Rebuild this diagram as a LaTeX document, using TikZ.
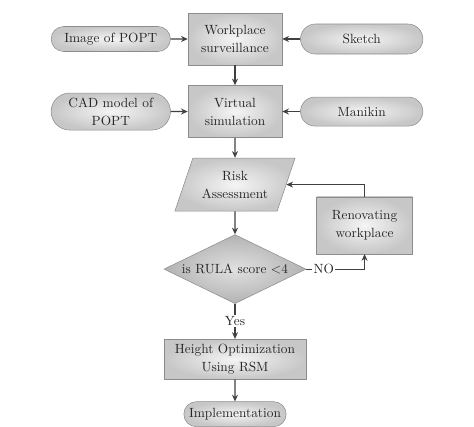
\documentclass[tikz,border=0pt]{standalone}
\usetikzlibrary{positioning}
\usetikzlibrary{shapes.geometric,shapes.misc}
\usetikzlibrary{arrows.meta}

\begin{document}
\begin{tikzpicture}[mybox/.style={draw=black!45, shading=radial, inner color=black!4, outer color=black!22, align=center, text=black!85, font=\fontsize{10}{13.5}\selectfont, inner sep=1pt},
mypill/.style={mybox, rounded rectangle},
myline/.style={->, draw=black!75, line width=0.9pt},
mylabel/.style={fill=white, inner sep=1pt, text=black!85, font=\fontsize{10}{13}\selectfont},
>={Stealth[length=5pt,width=4.5pt]}]

\useasboundingbox (-176.25pt,29.25pt) rectangle (179.25pt,-290.25pt);

\node[mybox, minimum width=70.5pt, minimum height=39pt] (surv) {Workplace\\surveillance};
\node[mypill, left=12.75pt of surv, minimum width=91.5pt, minimum height=18.75pt] (image) {Image of POPT};
\node[mypill, right=13.5pt of surv, minimum width=93.75pt, minimum height=22.5pt] (sketch) {Sketch};

\node[mybox, below=15pt of surv, minimum width=70.5pt, minimum height=39pt] (virt) {Virtual\\simulation};
\node[mypill, left=12.75pt of virt, minimum width=91.5pt, minimum height=27.75pt] (cad) {CAD model of\\POPT};
\node[mypill, right=13.5pt of virt, minimum width=93.75pt, minimum height=21.75pt] (mani) {Manikin};

\node[mybox, trapezium, trapezium left angle=64, trapezium right angle=116, trapezium stretches=true, below=15pt of virt, minimum width=90.75pt, minimum height=39.75pt] (risk) {Risk\\Assessment};
\node[mybox, diamond, aspect=2, inner sep=0pt, below=17.25pt of risk, minimum width=106.5pt, minimum height=51.75pt, inner color=black!12, outer color=black!30] (rula) {is RULA score <4};
\node[mybox, above right=11.25pt and 7.5pt of rula.east, minimum width=72pt, minimum height=42.75pt] (reno) {Renovating\\workplace};

\node[mybox, below=26.25pt of rula, minimum width=106.5pt, minimum height=30pt] (opt) {Height Optimization\\Using RSM};
\node[mypill, below=16.5pt of opt, minimum width=78.75pt, minimum height=18.75pt] (impl) {Implementation};

\draw[myline] (image) -- (surv);
\draw[myline] (sketch) -- (surv);
\draw[myline] (surv) -- (virt);
\draw[myline] (cad) -- (virt);
\draw[myline] (mani) -- (virt);
\draw[myline] (virt) -- (risk);
\draw[myline] (risk) -- (rula);
\draw[myline] (rula) -- (opt) node[midway, mylabel] {Yes};
\draw[myline] (rula.east) -| (reno.south) node[pos=0.15, mylabel] {NO};
\draw[myline] (reno.north) |- (risk);
\draw[myline] (opt) -- (impl);

\end{tikzpicture}
\end{document}
